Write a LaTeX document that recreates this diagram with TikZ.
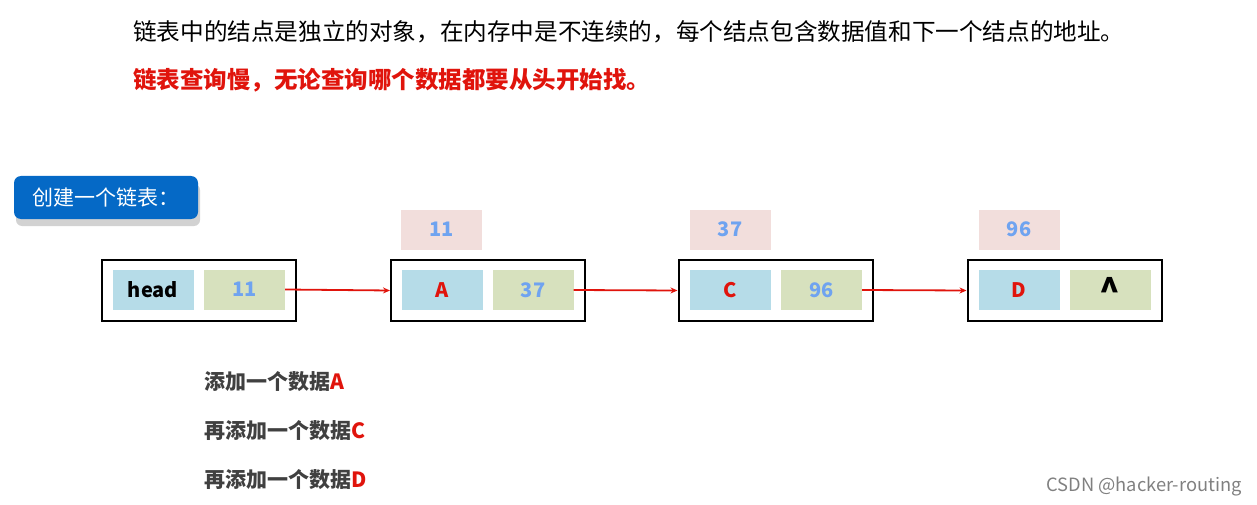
\documentclass[tikz,border=0pt]{standalone}
\usepackage{fontspec}
\setmainfont{Noto Sans CJK SC}
\usetikzlibrary{arrows.meta}
\definecolor{cellblue}{HTML}{B6DCE8}
\definecolor{cellgreen}{HTML}{D7E1BE}
\definecolor{cellpink}{HTML}{F2DEDC}
\definecolor{numblue}{HTML}{6FA3F0}
\definecolor{btnblue}{HTML}{0569C6}
\definecolor{redtxt}{HTML}{E0140C}
\definecolor{labgray}{HTML}{404040}
\tikzset{
 outer/.style={draw=black,line width=2pt,fill=white,minimum width=194pt,minimum height=61pt,inner sep=0pt},
 cell/.style={minimum width=81pt,minimum height=40pt,inner sep=0pt,font=\fontsize{20}{20}\selectfont\bfseries},
 dcell/.style={cell,fill=cellblue},
 pcell/.style={cell,fill=cellgreen,text=numblue},
 topcell/.style={cell,fill=cellpink,text=numblue},
 link/.style={draw=redtxt,line width=1.8pt,-{Stealth[length=7pt,width=6pt]}},
 steplab/.style={anchor=west,inner sep=0pt,font=\fontsize{21}{21}\selectfont\bfseries,text=labgray}
}
\begin{document}
\begin{tikzpicture}[x=1pt,y=-1pt]
\useasboundingbox (0,0) rectangle (1257,505);
\node[anchor=west,inner sep=0pt,font=\fontsize{23.6}{24}\selectfont] (t1) at (133,32) {链表中的结点是独立的对象，在内存中是不连续的，每个结点包含数据值和下一个结点的地址。};
\node[anchor=west,inner sep=0pt,font=\fontsize{23.5}{24}\selectfont\bfseries,text=redtxt] (t2) at (133,80) {链表查询慢，无论查询哪个数据都要从头开始找。};
% button
\fill[gray!35,rounded corners=6pt] (16,184) rectangle (200,226);
\node[fill=btnblue,rounded corners=7pt,minimum width=184pt,minimum height=43pt,inner sep=0pt,text=white,font=\fontsize{21}{21}\selectfont] (btn) at (106,197.5) {创建一个链表：};
% nodes
\node[outer] (n0) at (199,290.5) {};
\node[outer] (n1) at (488,290.5) {};
\node[outer] (n2) at (775.5,290.5) {};
\node[outer] (n3) at (1064.5,290.5) {};
\node[dcell] (h) at (153,289.5) {head};
\node[pcell] (p0) at (244.5,289.5) {11};
\node[dcell,text=redtxt] (a) at (442,290) {A};
\node[pcell] (p1) at (533,290) {37};
\node[dcell,text=redtxt] (c) at (730,290) {C};
\node[pcell] (p2) at (821.5,290) {96};
\node[dcell,text=redtxt] (d) at (1019,290) {D};
\node[pcell,text=black,font=\fontsize{34}{34}\selectfont\bfseries] (p3) at (1110,290) {\raisebox{-8pt}{\textasciicircum}};
\node[topcell] (m1) at (441.5,229.5) {11};
\node[topcell] (m2) at (730,229.5) {37};
\node[topcell] (m3) at (1019,229.5) {96};
\draw[link] (p0.east) -- (n1.west);
\draw[link] (p1.east) -- (n2.west);
\draw[link] (p2.east) -- (n3.west);
\node[steplab] (s1) at (204,382) {添加一个数据\textcolor{redtxt}{A}};
\node[steplab] (s2) at (204,431) {再添加一个数据\textcolor{redtxt}{C}};
\node[steplab] (s3) at (204,480) {再添加一个数据\textcolor{redtxt}{D}};
\node[anchor=east,inner sep=0pt,font=\fontsize{18.3}{18}\selectfont,text=gray] (wm) at (1242,486) {CSDN @hacker-routing};
\end{tikzpicture}
\end{document}
